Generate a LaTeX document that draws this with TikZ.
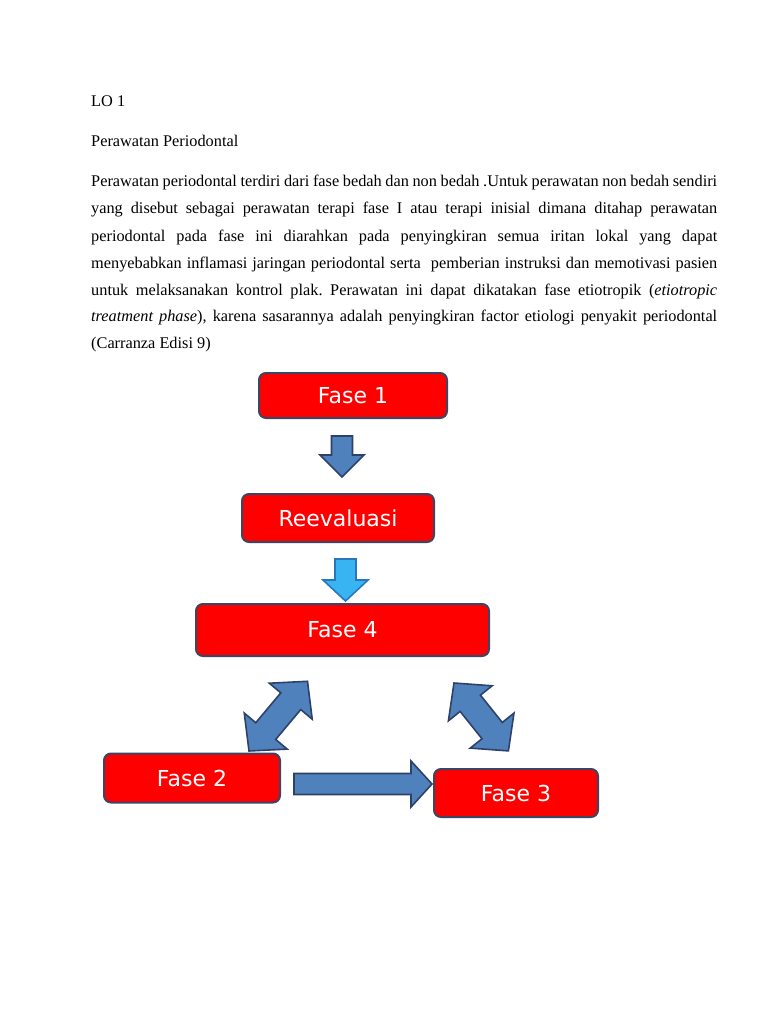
\documentclass[tikz,border=0pt]{standalone}
\usepackage{fontspec}
\setmainfont{Liberation Serif}
\newfontfamily\boxfont{DejaVu Sans}
\definecolor{boxred}{RGB}{255,0,0}
\definecolor{boxline}{RGB}{60,70,100}
\definecolor{arrfill}{RGB}{79,129,189}
\definecolor{arrline}{RGB}{45,65,105}
\definecolor{lightfill}{RGB}{56,180,242}
\definecolor{lightline}{RGB}{40,120,185}
\frenchspacing
\begin{document}
\begin{tikzpicture}[x=1pt,y=-1pt,
  fasebox/.style={draw=boxline, line width=2pt, fill=boxred, rounded corners=7pt,
    text=white, font=\boxfont\fontsize{22}{24}\selectfont, inner sep=0pt},
  body/.style={anchor=base west, inner sep=0pt, font=\fontsize{16.3}{18}\selectfont},
  blockarrow/.style={draw=arrline, line width=1.6pt, fill=arrfill, line join=miter},
  lightarrow/.style={draw=lightline, line width=1.6pt, fill=lightfill, line join=miter},
  ]
\useasboundingbox[fill=white] (0,0) rectangle (768,1024);

% text
\node[body] (t0) at (91,107) {LO 1};
\node[body] (t1) at (91,147) {Perawatan Periodontal};
\node[body] (t2) at (91,187) {\makebox[626pt][s]{Perawatan periodontal terdiri dari fase bedah dan non bedah .Untuk perawatan non bedah sendiri}};
\node[body] (t3) at (91,214) {\makebox[626pt][s]{yang disebut sebagai perawatan terapi fase I atau terapi inisial dimana ditahap perawatan}};
\node[body] (t4) at (91,241) {\makebox[626pt][s]{periodontal pada fase ini diarahkan pada penyingkiran semua iritan lokal yang dapat}};
\node[body] (t5) at (91,268) {\makebox[626pt][s]{menyebabkan inflamasi jaringan periodontal serta\ \ pemberian instruksi dan memotivasi pasien}};
\node[body] (t6) at (91,295) {\makebox[626pt][s]{untuk melaksanakan kontrol plak. Perawatan ini dapat dikatakan fase etiotropik (\textit{etiotropic}}};
\node[body] (t7) at (91,321) {\makebox[626pt][s]{\textit{treatment phase}), karena sasarannya adalah penyingkiran factor etiologi penyakit periodontal}};
\node[body] (t8) at (91,348) {(Carranza Edisi 9)};

% boxes
\node[fasebox, minimum width=188pt, minimum height=45pt] (f1) at (353,395.5) {Fase 1};
\node[fasebox, minimum width=192pt, minimum height=48pt] (rv) at (338,518) {Reevaluasi};
\node[fasebox, minimum width=293pt, minimum height=52pt] (f4) at (342.5,630) {Fase 4};
\node[fasebox, minimum width=176pt, minimum height=49pt] (f2) at (192,778) {Fase 2};
\node[fasebox, minimum width=164pt, minimum height=48pt] (f3) at (516,793) {Fase 3};

% vertical arrows
\draw[blockarrow] (331.5,436) -- (352.5,436) -- (352.5,455) -- (364,455) -- (342,477)
  -- (320,455) -- (331.5,455) -- cycle;
\draw[lightarrow] (335,559) -- (356,559) -- (356,580) -- (368,580) -- (345.5,601)
  -- (323,580) -- (335,580) -- cycle;

% double arrows
\begin{scope}[shift={(249,751)}, rotate=50]
  \draw[blockarrow] (0,0) -- (26,28) -- (26,13) -- (65,13) -- (65,28) -- (91,0)
    -- (65,-28) -- (65,-13) -- (26,-13) -- (26,-28) -- cycle;
\end{scope}
\begin{scope}[shift={(454,683)}, rotate=-51.3]
  \draw[blockarrow] (0,0) -- (26,28) -- (26,13) -- (61,13) -- (61,28) -- (87,0)
    -- (61,-28) -- (61,-13) -- (26,-13) -- (26,-28) -- cycle;
\end{scope}

% horizontal arrow
\draw[blockarrow] (294,773.5) -- (411,773.5) -- (411,761) -- (432,784) -- (411,807)
  -- (411,794.5) -- (294,794.5) -- cycle;
\end{tikzpicture}
\end{document}
